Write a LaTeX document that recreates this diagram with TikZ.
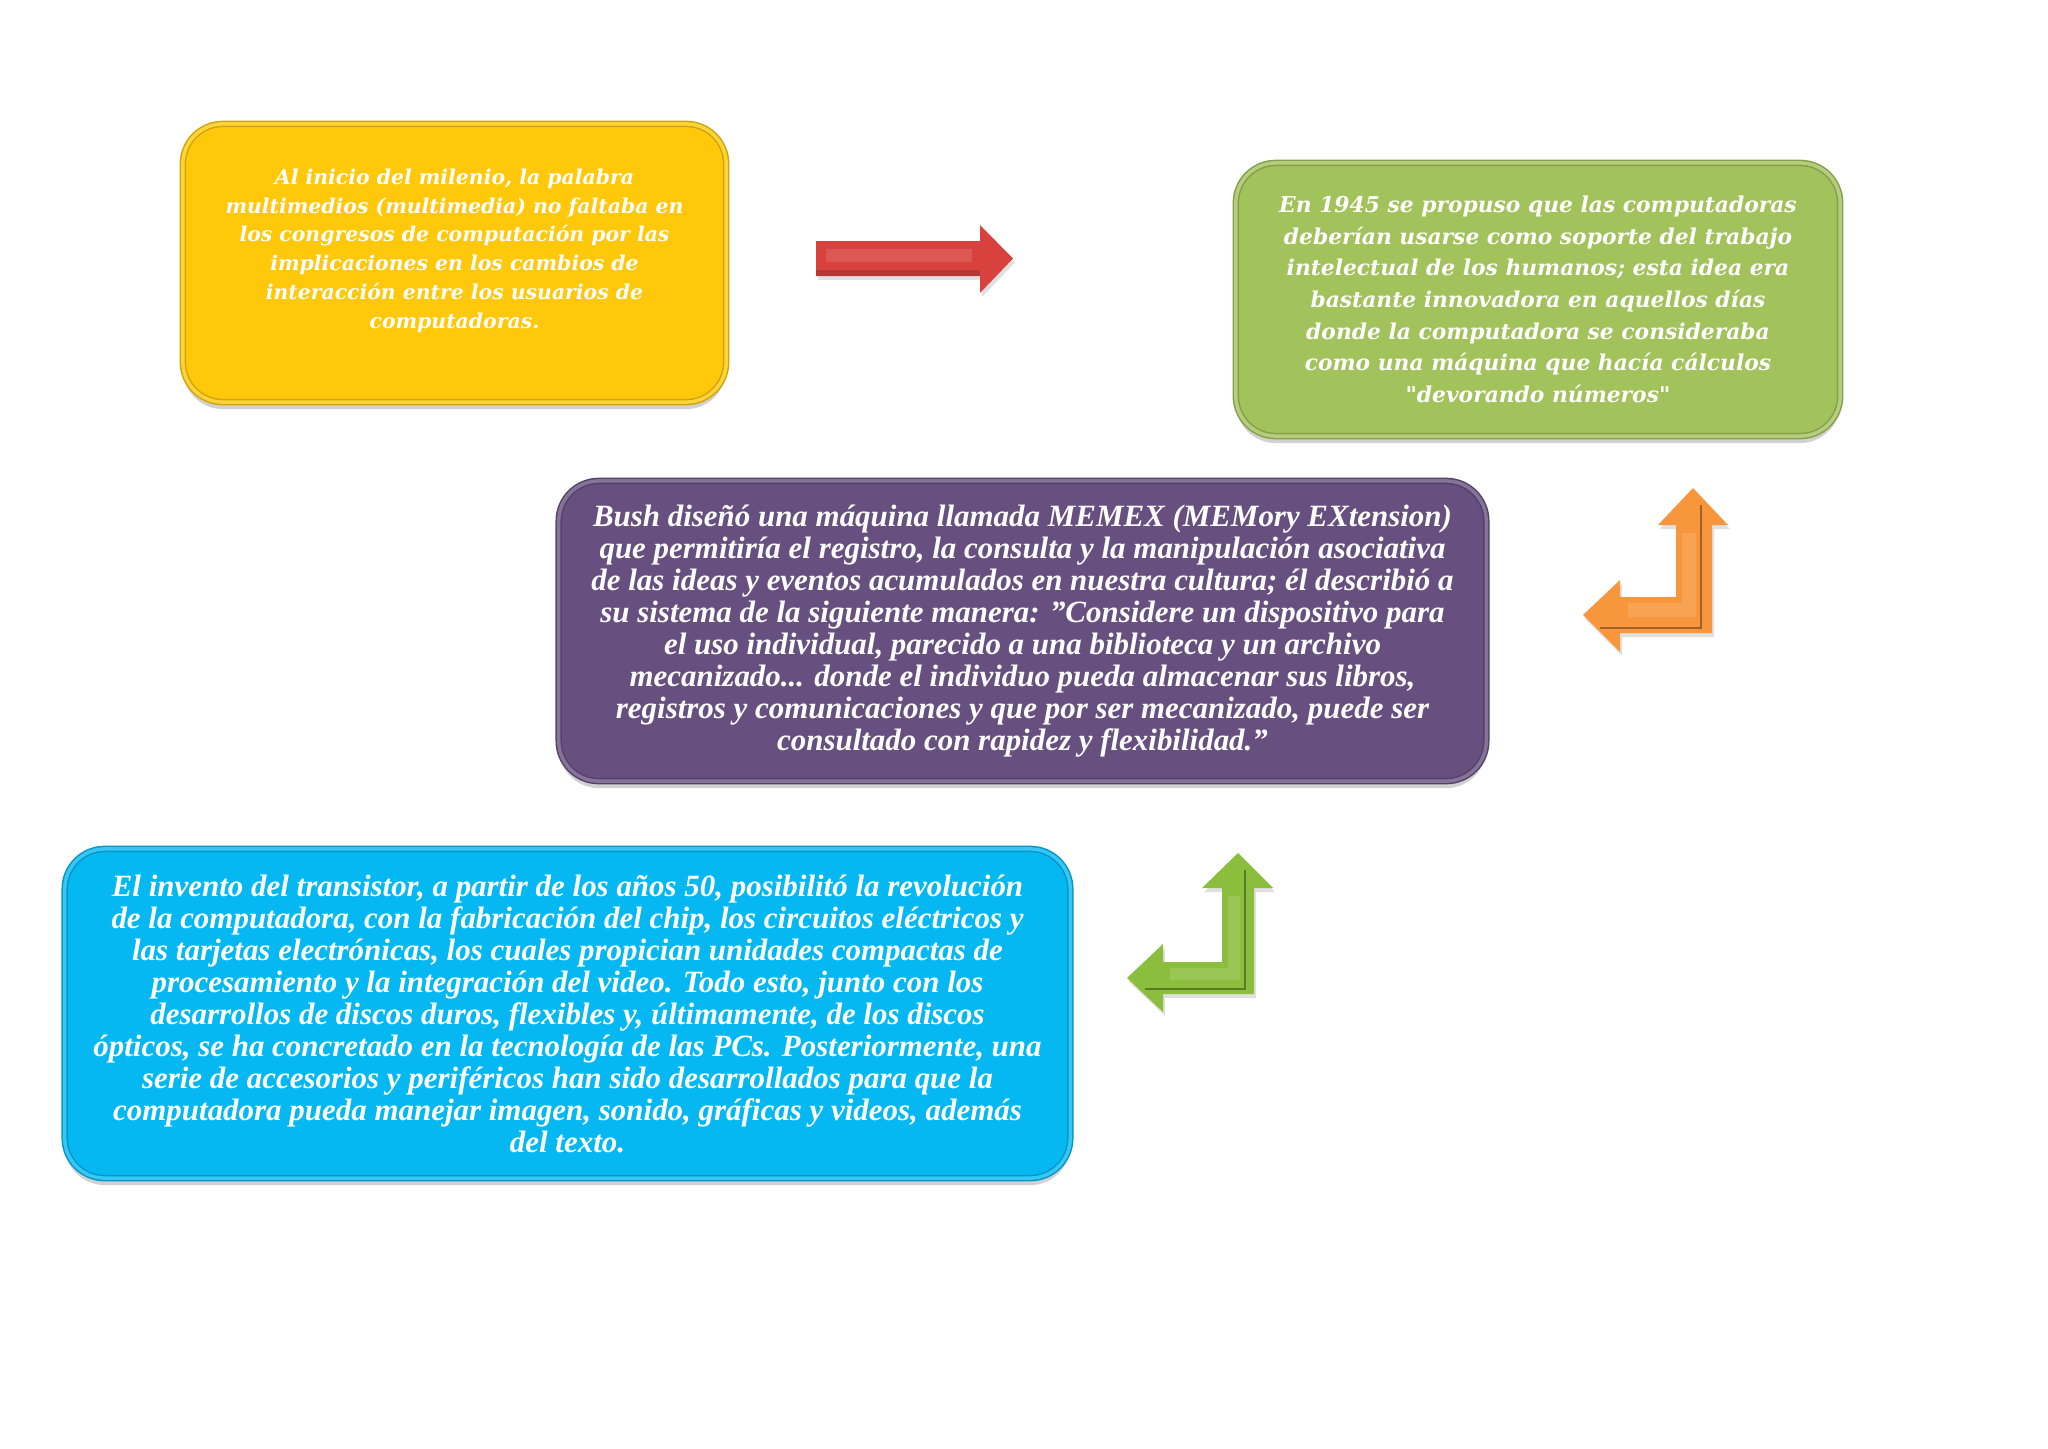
\documentclass[tikz,border=0pt]{standalone}
\usepackage{fontspec}
\setmainfont{Liberation Serif}
\newfontfamily\georgia{DejaVu Serif}
\usetikzlibrary{shadows}

\definecolor{ymain}{HTML}{FFC80A}
\definecolor{gmain}{HTML}{A2C25C}
\definecolor{pmain}{HTML}{67507F}
\definecolor{bmain}{HTML}{05B8F2}
\definecolor{rarrow}{HTML}{D8413E}
\definecolor{oarrow}{HTML}{F7963C}
\definecolor{garrow}{HTML}{8CBE3E}

\tikzset{
  panel/.style={
    rounded corners=0.4cm,
    draw=#1!82!black,
    double=#1!80!white,
    double distance=0.035cm,
    line width=0.015cm,
    fill=#1,
    drop shadow={shadow xshift=0cm, shadow yshift=-0.07cm, opacity=0.3, fill=black!60},
    text=white,
    align=center,
    inner sep=0pt,
  },
  narrowtext/.style={font=\bfseries\itshape\fontsize{8.8}{9.1}\selectfont},
  yeltext/.style={font=\georgia\bfseries\itshape\fontsize{5.8}{8.2}\selectfont},
  grntext/.style={font=\georgia\bfseries\itshape\fontsize{6.2}{9}\selectfont},
}

\begin{document}
\begin{tikzpicture}[x=0.01cm, y=-0.01cm]
    \useasboundingbox (0,0) rectangle (2048,1448);

    % the four text panels
    \node[panel=ymain, yeltext, minimum width=5.43cm, minimum height=2.78cm] (Y1) at (454.5,263)
        {Al inicio del milenio, la palabra\\
         multimedios (multimedia) no faltaba en\\
         los congresos de computación por las\\
         implicaciones en los cambios de\\
         interacción entre los usuarios de\\
         computadoras.\\ ~};

    \node[panel=gmain, grntext, minimum width=6.04cm, minimum height=2.73cm] (G1) at (1538,299.5)
        {En 1945 se propuso que las computadoras\\
         deberían usarse como soporte del trabajo\\
         intelectual de los humanos; esta idea era\\
         bastante innovadora en aquellos días\\
         donde la computadora se consideraba\\
         como una máquina que hacía cálculos\\
         "devorando números"};

    \node[panel=pmain, narrowtext, minimum width=9.27cm, minimum height=3.0cm] (P1) at (1022.5,631)
        {Bush diseñó una máquina llamada MEMEX (MEMory EXtension)\\
         que permitiría el registro, la consulta y la manipulación asociativa\\
         de las ideas y eventos acumulados en nuestra cultura; él describió a\\
         su sistema de la siguiente manera: "Considere un dispositivo para\\
         el uso individual, parecido a una biblioteca y un archivo\\
         mecanizado... donde el individuo pueda almacenar sus libros,\\
         registros y comunicaciones y que por ser mecanizado, puede ser\\
         consultado con rapidez y flexibilidad."};

    \node[panel=bmain, narrowtext, minimum width=10.05cm, minimum height=3.29cm] (B1) at (567.5,1013.5)
        {El invento del transistor, a partir de los años 50, posibilitó la revolución\\
         de la computadora, con la fabricación del chip, los circuitos eléctricos y\\
         las tarjetas electrónicas, los cuales propician unidades compactas de\\
         procesamiento y la integración del video. Todo esto, junto con los\\
         desarrollos de discos duros, flexibles y, últimamente, de los discos\\
         ópticos, se ha concretado en la tecnología de las PCs. Posteriormente, una\\
         serie de accesorios y periféricos han sido desarrollados para que la\\
         computadora pueda manejar imagen, sonido, gráficas y videos, además\\
         del texto.};

    % block arrows
    \tikzstyle{blockarrow}=[line join=miter, drop shadow={shadow xshift=0.02cm, shadow yshift=-0.04cm, opacity=0.2, fill=black!60}]

    \fill[rarrow, blockarrow] (816,241) -- (980,241) -- (980,225) -- (1013,258.5) -- (980,293) -- (980,276) -- (816,276) -- cycle;
    \fill[rarrow!88!white] (826,249) -- (972,249) -- (972,262) -- (826,262) -- cycle;
    \fill[rarrow!85!black] (816,270) -- (980,270) -- (980,276) -- (816,276) -- cycle;

    \fill[oarrow, blockarrow] (1583,615) -- (1620,580) -- (1620,597) -- (1676,597) -- (1676,525) -- (1658,525)
        -- (1693,488) -- (1728,525) -- (1712,525) -- (1712,633) -- (1620,633) -- (1620,652) -- cycle;
    \fill[oarrow!88!white] (1628,603) -- (1682,603) -- (1682,533) -- (1696,533) -- (1696,617) -- (1628,617) -- cycle;
    \draw[oarrow!65!black, line width=0.015cm] (1701,505) -- (1701,628) -- (1600,628);

    \fill[garrow, blockarrow] (1127,978) -- (1163,944) -- (1163,962) -- (1222,962) -- (1222,888) -- (1202,888)
        -- (1238,853) -- (1273,888) -- (1254,888) -- (1254,994) -- (1163,994) -- (1163,1012) -- cycle;
    \fill[garrow!88!white] (1170,968) -- (1228,968) -- (1228,896) -- (1240,896) -- (1240,980) -- (1170,980) -- cycle;
    \draw[garrow!65!black, line width=0.015cm] (1245,870) -- (1245,989) -- (1145,989);

\end{tikzpicture}
\end{document}
